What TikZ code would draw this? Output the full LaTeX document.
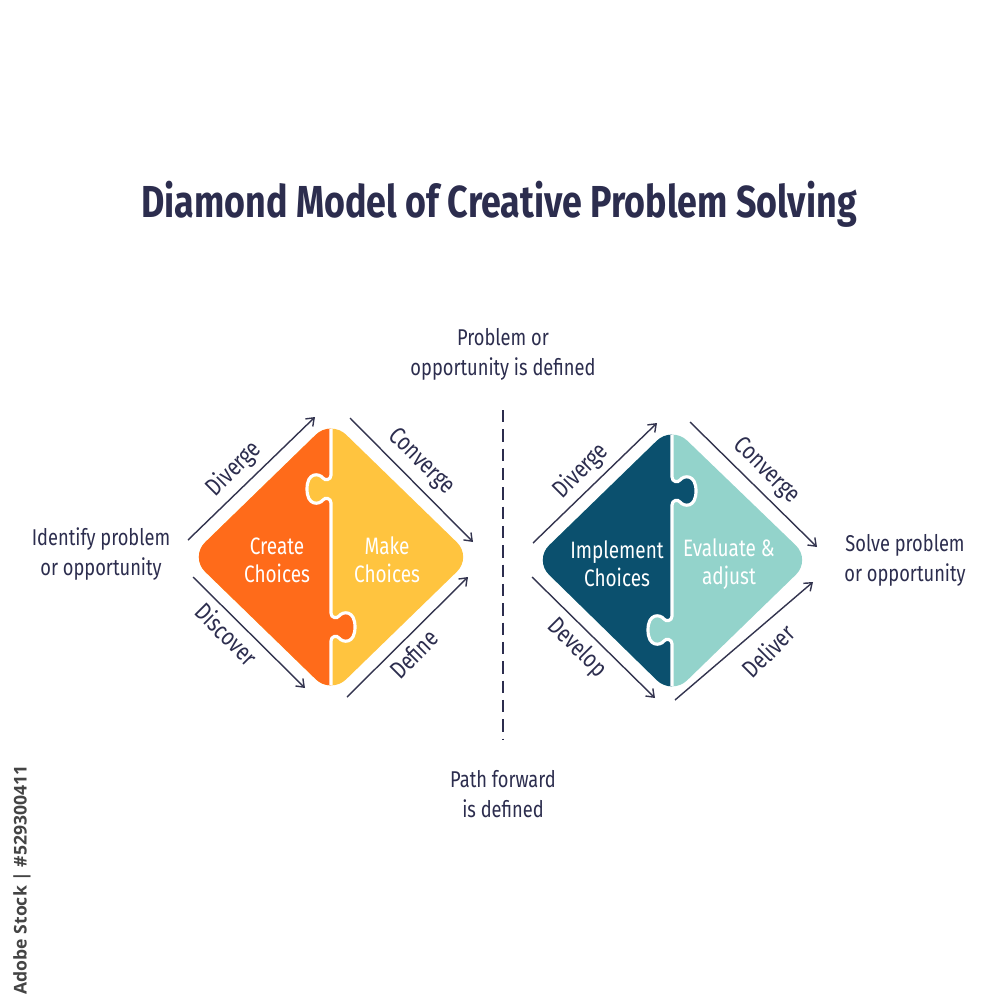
\documentclass[tikz,border=0pt]{standalone}
\usepackage{fontspec}
\setmainfont{Fira Sans}[FakeStretch=0.8]
\newfontfamily\wmfont{Open Sans}
\usetikzlibrary{arrows.meta}
\definecolor{navy}{HTML}{2C2D4E}
\definecolor{orng}{HTML}{FF6B1A}
\definecolor{yllw}{HTML}{FFC43F}
\definecolor{dteal}{HTML}{0B506E}
\definecolor{lteal}{HTML}{93D3CB}
\definecolor{arrowc}{HTML}{33344F}
\definecolor{wmgray}{HTML}{444444}
\begin{document}
\begin{tikzpicture}[x=0.02cm,y=-0.02cm,
  txt/.style={text=navy,font=\fontsize{13}{17}\selectfont,align=center,inner sep=0pt},
  edgelbl/.style={text=navy,font=\fontsize{14}{16}\selectfont,inner sep=0pt},
  intxt/.style={text=white,font=\fontsize{13.5}{16}\selectfont,align=center,inner sep=0pt},
  flow/.style={draw=arrowc,line width=0.8pt,-{Straight Barb[length=4pt,width=6pt]}},
  splitline/.style={draw=white,line width=1.8pt},
  divider/.style={draw=navy,line width=1.1pt,dash pattern=on 7pt off 4pt}]
\useasboundingbox (0,0) rectangle (1000,1000);
\fill[white] (0,0) rectangle (1000,1000);

% title
\node[text=navy,font=\fontsize{25.5}{28}\selectfont\bfseries,inner sep=0pt] (title) at (499,204) {Diamond Model of Creative Problem Solving};

% ---------- left diamond ----------
\begin{scope}
  \clip[rounded corners=12pt] (190,557) -- (331,420) -- (472,557) -- (331,694) -- cycle;
  \fill[yllw] (150,400) rectangle (500,720);
  \fill[orng] (150,400) -- (331,400) -- (331,475)
    .. controls (331,480) and (325,481) .. (323,478)
    .. controls (319,473) and (307,472) .. (307,489)
    .. controls (307,506) and (319,505) .. (323,500)
    .. controls (325,497) and (331,498) .. (331,503)
    -- (331,613)
    .. controls (331,618) and (337,619) .. (339,616)
    .. controls (343,611) and (355,610) .. (355,627)
    .. controls (355,644) and (343,643) .. (339,638)
    .. controls (337,635) and (331,636) .. (331,641)
    -- (331,720) -- (150,720) -- cycle;
  \draw[splitline] (331,400) -- (331,475)
    .. controls (331,480) and (325,481) .. (323,478)
    .. controls (319,473) and (307,472) .. (307,489)
    .. controls (307,506) and (319,505) .. (323,500)
    .. controls (325,497) and (331,498) .. (331,503)
    -- (331,613)
    .. controls (331,618) and (337,619) .. (339,616)
    .. controls (343,611) and (355,610) .. (355,627)
    .. controls (355,644) and (343,643) .. (339,638)
    .. controls (337,635) and (331,636) .. (331,641)
    -- (331,720);
\end{scope}

% ---------- right diamond ----------
\begin{scope}
  \clip[rounded corners=12pt] (534,560) -- (672,426) -- (811,560) -- (672,695) -- cycle;
  \fill[lteal] (500,400) rectangle (850,720);
  \fill[dteal] (500,400) -- (672,400) -- (672,477)
    .. controls (672,482) and (678,483) .. (680,480)
    .. controls (684,475) and (696,474) .. (696,491)
    .. controls (696,508) and (684,507) .. (680,502)
    .. controls (678,499) and (672,500) .. (672,505)
    -- (672,616)
    .. controls (672,621) and (666,622) .. (664,619)
    .. controls (660,614) and (648,613) .. (648,630)
    .. controls (648,647) and (660,646) .. (664,641)
    .. controls (666,638) and (672,639) .. (672,644)
    -- (672,720) -- (500,720) -- cycle;
  \draw[splitline] (672,400) -- (672,477)
    .. controls (672,482) and (678,483) .. (680,480)
    .. controls (684,475) and (696,474) .. (696,491)
    .. controls (696,508) and (684,507) .. (680,502)
    .. controls (678,499) and (672,500) .. (672,505)
    -- (672,616)
    .. controls (672,621) and (666,622) .. (664,619)
    .. controls (660,614) and (648,613) .. (648,630)
    .. controls (648,647) and (660,646) .. (664,641)
    .. controls (666,638) and (672,639) .. (672,644)
    -- (672,720);
\end{scope}

% inner texts
\node[intxt] (create) at (277,560) {Create\\Choices};
\node[intxt] (make) at (387,560) {Make\\Choices};
\node[intxt] (impl) at (617,564) {Implement\\Choices};
\node[intxt] (eval) at (729,564) {Evaluate \&\\adjust};

% arrows left
\coordinate (a1s) at (188,540); \coordinate (a1e) at (315,417);
\coordinate (a2s) at (350,418); \coordinate (a2e) at (473,542);
\coordinate (a3s) at (193,577); \coordinate (a3e) at (305,688);
\coordinate (a4s) at (347,697); \coordinate (a4e) at (468,577);
\draw[flow] (a1s) -- (a1e);
\draw[flow] (a2s) -- (a2e);
\draw[flow] (a3s) -- (a3e);
\draw[flow] (a4s) -- (a4e);
% arrows right
\coordinate (b1s) at (533,543); \coordinate (b1e) at (657,423);
\coordinate (b2s) at (690,422); \coordinate (b2e) at (817,547);
\coordinate (b3s) at (532,577); \coordinate (b3e) at (655,698);
\coordinate (b4s) at (675,700); \coordinate (b4e) at (813,582);
\draw[flow] (b1s) -- (b1e);
\draw[flow] (b2s) -- (b2e);
\draw[flow] (b3s) -- (b3e);
\draw[flow] (b4s) -- (b4e);

% edge labels
\node[edgelbl,rotate=45] (div1) at (234,469) {Diverge};
\node[edgelbl,rotate=-45] (con1) at (421,462) {Converge};
\node[edgelbl,rotate=-45] (dis1) at (227,634) {Discover};
\node[edgelbl,rotate=45] (def1) at (414,654) {Define};
\node[edgelbl,rotate=45] (div2) at (581,471) {Diverge};
\node[edgelbl,rotate=-45] (con2) at (766,471) {Converge};
\node[edgelbl,rotate=-45] (dev2) at (577,648) {Develop};
\node[edgelbl,rotate=45] (del2) at (768,651) {Deliver};

% side texts
\node[txt] (ident) at (101,554) {Identify problem\\or opportunity};
\node[txt] (solve) at (905,560) {Solve problem\\or opportunity};
\node[txt] (probdef) at (503,354) {Problem or\\opportunity is defined};
\node[txt] (pathdef) at (503,794) {Path forward\\is defined};

% divider
\coordinate (dtop) at (503,410);
\coordinate (dbot) at (503,740);
\draw[divider] (dtop) -- (dbot);

% watermark
\node[text=wmgray,font=\wmfont\bfseries\fontsize{10}{12}\selectfont,rotate=90,inner sep=0pt] (wm) at (22,880) {Adobe Stock | \#529300411};
\end{tikzpicture}
\end{document}
